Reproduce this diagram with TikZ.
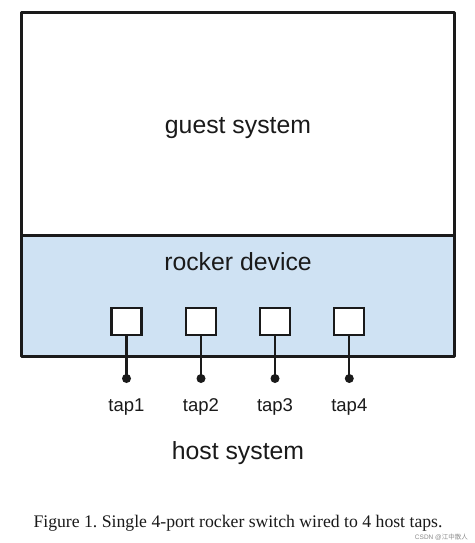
\documentclass[tikz,border=0pt]{standalone}
\usepackage{fontspec}
\setmainfont{Liberation Sans}
\newfontfamily\capfont{Liberation Serif}
\newfontfamily\cjk{Noto Sans CJK SC}
\definecolor{devblue}{HTML}{CFE2F3}
\definecolor{ink}{HTML}{1A1A1A}
\frenchspacing
\begin{document}
\begin{tikzpicture}[x=1pt,y=-1pt,
  bigtext/.style={font=\fontsize{24.8}{30}\selectfont, text=ink, inner sep=0pt, anchor=base},
  taptext/.style={font=\fontsize{18.5}{22}\selectfont, text=ink, inner sep=0pt, anchor=base},
  portbox/.style={draw=ink, line width=2.3pt, fill=white, minimum width=30pt, minimum height=27pt, inner sep=0pt},
  tapdot/.style={circle, fill=ink, minimum size=9pt, inner sep=0pt},
  wire/.style={draw=ink, line width=2.3pt}]
\useasboundingbox (0,0) rectangle (474,543);
\fill[white] (0,0) rectangle (474,543);
% rocker device area
\fill[devblue] (21.5,235) rectangle (454,356);
\draw[ink, line width=3pt, line join=round] (21.5,12.5) rectangle (454,356);
\draw[ink, line width=3pt] (21.5,235) -- (454,235);
\node[bigtext] (guest) at (238,133.3) {guest system};
\node[bigtext] (rocker) at (238,270.7) {rocker device};
\node[bigtext] (host) at (238,459.3) {host system};
\foreach \i/\x in {1/126.5,2/201,3/275,4/349.3}{
  \node[portbox] (p\i) at (\x,321.7) {};
  \node[tapdot] (d\i) at (\x,378.5) {};
  \draw[wire] (p\i.south) -- (d\i.center);
  \node[taptext] (t\i) at (\x,411.7) {tap\i};
}
\node[font=\capfont\fontsize{17.7}{21}\selectfont, text=ink, inner sep=0pt, anchor=base] (cap) at (238,527.3) {Figure 1. Single 4-port rocker switch wired to 4 host taps.};
\node[font=\fontsize{6.5}{8}\selectfont, text=black!45, inner sep=0pt, anchor=east] (wm) at (468,537) {CSDN @{\cjk 江中散人}};
\end{tikzpicture}
\end{document}
